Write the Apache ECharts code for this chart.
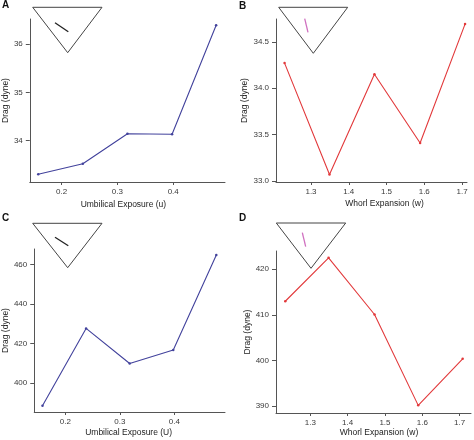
<!DOCTYPE html>
<html>
<head>
  <meta charset="utf-8">
</head>
<body style="margin: 0">
  <div id="container" style="width: 474px; height: 440px"></div>

  <script type="text/javascript" src="https://cdn.jsdelivr.net/npm/echarts@6/dist/echarts.min.js"></script>
  <script type="text/javascript">
    // x positions of the runs
    var umbXA = [0.158, 0.238, 0.318, 0.398, 0.477];
    var umbXC = [0.158, 0.238, 0.318, 0.398, 0.477];
    var whorlXB = [1.23, 1.349, 1.468, 1.589, 1.708];
    var whorlXD = [1.233, 1.349, 1.472, 1.589, 1.708];

    // drag values (dyne)
    var dragA = [33.30, 33.52, 34.14, 34.13, 36.39];
    var dragB = [34.27, 33.07, 34.15, 33.41, 34.69];
    var dragC = [388.7, 427.7, 410.0, 416.8, 464.8];
    var dragD = [413.0, 422.5, 410.1, 390.2, 400.4];

    // tick labels
    var umbTicks = [0.2, 0.3, 0.4];
    var whorlTicks = [1.3, 1.4, 1.5, 1.6, 1.7];
    var ticksA = [34, 35, 36];
    var ticksB = [33.0, 33.5, 34.0, 34.5];
    var ticksC = [400, 420, 440, 460];
    var ticksD = [390, 400, 410, 420];

    var font = 'Liberation Sans';
    var axisCol = '#555';
    var textCol = '#3a3a3a';

    function pairs(xs, ys) {
      return xs.map(function (x, i) { return [x, ys[i]]; });
    }

    function xAx(idx, name, min, max, ticks, pad, gap) {
      return {
        type: 'value', gridIndex: idx, min: min, max: max,
        name: name, nameLocation: 'middle', nameGap: gap,
        nameTextStyle: { fontFamily: font, fontSize: 8.5, color: '#222', padding: pad },
        axisLine: { onZero: false, lineStyle: { color: axisCol, width: 1 } },
        axisTick: { customValues: ticks, length: 3, lineStyle: { color: axisCol } },
        axisLabel: {
          customValues: ticks, margin: 6, fontFamily: font, fontSize: 8, color: textCol,
          formatter: function (v) { return v.toFixed(1); }
        },
        splitLine: { show: false }
      };
    }

    function yAx(idx, min, max, ticks, gap, dec) {
      return {
        type: 'value', gridIndex: idx, min: min, max: max,
        name: 'Drag (dyne)', nameLocation: 'middle', nameGap: gap,
        nameTextStyle: { fontFamily: font, fontSize: 8.5, color: '#222' },
        axisLine: { show: true, lineStyle: { color: axisCol, width: 1 } },
        axisTick: { show: true, customValues: ticks, length: 4, lineStyle: { color: axisCol } },
        axisLabel: {
          customValues: ticks, margin: 7, fontFamily: font, fontSize: 8, color: textCol,
          formatter: function (v) { return v.toFixed(dec); }
        },
        splitLine: { show: false }
      };
    }

    function lineSeries(idx, data, color) {
      return {
        type: 'line', xAxisIndex: idx, yAxisIndex: idx, data: data,
        symbol: 'circle', symbolSize: 2.5, silent: true,
        lineStyle: { color: color, width: 1.1 },
        itemStyle: { color: color }
      };
    }

    function tri(x1, x2, y, ax, ay, l, lineCol) {
      return [
        {
          type: 'polygon', shape: { points: [[x1, y], [x2, y], [ax, ay]] },
          style: { fill: 'none', stroke: '#444', lineWidth: 1 }, z: 100
        },
        {
          type: 'line', shape: { x1: l[0], y1: l[1], x2: l[2], y2: l[3] },
          style: { stroke: lineCol, lineWidth: 1.3 }, z: 100
        }
      ];
    }

    function letter(t, x, y) {
      return {
        type: 'text', left: x, top: y, z: 100,
        style: { text: t, fontFamily: font, fontSize: 10, fontWeight: 'bold', fill: '#111' }
      };
    }

    var dom = document.getElementById('container');
    var myChart = echarts.init(dom, null, { renderer: 'canvas' });

    var blue = '#42429c';
    var red = '#e2393b';

    var option = {
      animation: false,
      grid: [
        { left: 29, top: 19, width: 196, height: 163 },
        { left: 276, top: 19, width: 191, height: 163 },
        { left: 29, top: 249, width: 196, height: 163 },
        { left: 276, top: 251, width: 195, height: 162 }
      ],
      xAxis: [
        xAx(0, 'Umbilical Exposure (u)', 0.1429, 0.4929, umbTicks, [0, 8, 0, 0], 18),
        xAx(1, 'Whorl Expansion (w)', 1.2073, 1.7132, whorlTicks, [0, 0, 0, 26], 17),
        xAx(2, 'Umbilical Exposure (U)', 0.1429, 0.4929, umbTicks, [0, 2, 0, 0], 16),
        xAx(3, 'Whorl Expansion (w)', 1.2082, 1.7303, whorlTicks, [0, 0, 0, 11], 15)
      ],
      yAxis: [
        yAx(0, 33.14, 36.52, ticksA, 16, 0),
        yAx(1, 32.99, 34.745, ticksB, 24, 1),
        yAx(2, 385.5, 467.8, ticksC, 17, 0),
        yAx(3, 388.53, 424.0, ticksD, 23, 0)
      ],
      series: [
        lineSeries(0, pairs(umbXA, dragA), blue),
        lineSeries(1, pairs(whorlXB, dragB), red),
        lineSeries(2, pairs(umbXC, dragC), blue),
        lineSeries(3, pairs(whorlXD, dragD), red)
      ],
      graphic: [].concat(
        tri(32.7, 102, 7.3, 67.7, 52.7, [55, 22.7, 68.3, 31.7], '#222'),
        tri(278.7, 347.7, 7.3, 313.3, 53.3, [304.7, 18.7, 308, 32.3], '#d070c0'),
        tri(32.7, 102, 223.3, 67.7, 267.7, [55, 237.3, 68.3, 245.7], '#222'),
        tri(276.3, 345.7, 223, 311, 268.3, [302.3, 232.7, 305.7, 246.7], '#d070c0'),
        [letter('A', 2, 0), letter('B', 239, 1), letter('C', 2, 213), letter('D', 239, 213)]
      )
    };

    myChart.setOption(option);
    window.addEventListener('resize', myChart.resize);
  </script>
</body>
</html>
